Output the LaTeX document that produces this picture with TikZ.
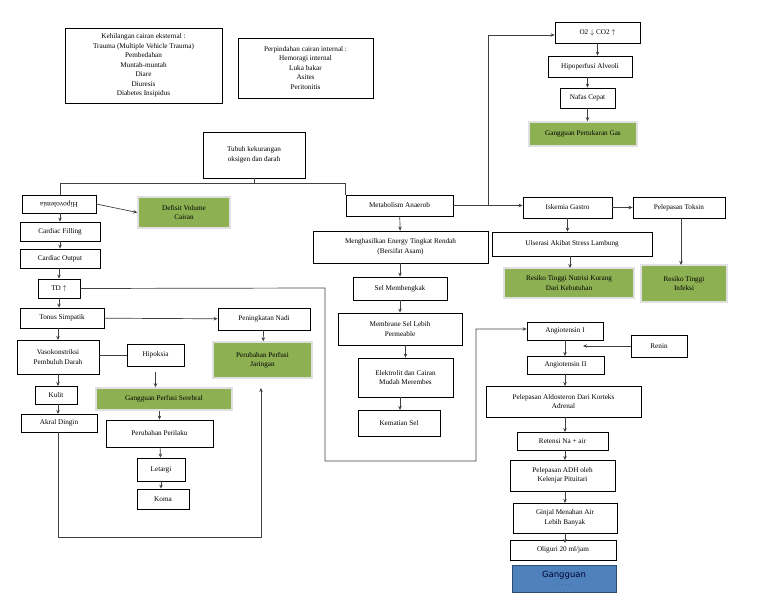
\documentclass[tikz,border=0pt]{standalone}
\usepackage{fontspec}
\setmainfont{Liberation Serif}
\newfontfamily\sansf{DejaVu Sans}
\usetikzlibrary{arrows.meta}
\definecolor{gr}{HTML}{8DB052}
\definecolor{bl}{HTML}{4F81BD}
\begin{document}
\begin{tikzpicture}[x=1pt,y=-1pt,
  every node/.style={font=\fontsize{7.2}{9.5}\selectfont,align=center,inner sep=1pt},
  bx/.style={draw=black,line width=0.8pt},
  gbx/.style={fill=gr,draw=black!12,line width=1.5pt},
  ln/.style={draw=black!75,line width=0.7pt},
  ar/.style={ln,-{Stealth[length=4pt,width=3.5pt]}}]
\useasboundingbox (0,0) rectangle (768,594);
\newcommand{\bxat}[5]{\node[#5,minimum width=#3-#1,minimum height=#4-#2] at ({(#1+#3)/2},{(#2+#4)/2})}
\bxat{65}{28}{222}{103}{bx} (ext) {Kehilangan cairan eksternal :\\Trauma (Multiple Vehicle Trauma)\\Pembedahan\\Muntah-muntah\\Diare\\Diuresis\\Diabetes Insipidus};
\bxat{238}{38}{373}{98}{bx} (int) {Perpindahan cairan internal :\\Hemoragi internal\\Luka bakar\\Asites\\Peritonitis};
\bxat{203}{132}{305}{178}{bx} (tubuh) {Tubuh kekurangan\\oksigen dan darah};
\bxat{22}{195}{96}{213}{bx} (hypo) {\rotatebox{180}{Hipovolemia}};
\bxat{138}{197}{230}{228}{gbx} (def) {Defisit Volume\\Cairan};
\bxat{20}{222}{100}{241}{bx} (cf) {Cardiac Filling};
\bxat{20}{249}{100}{268}{bx} (co) {Cardiac Output};
\bxat{38}{279}{80}{298}{bx} (td) {TD $\uparrow$};
\bxat{20}{308}{104}{328}{bx} (ton) {Tonus Simpatik};
\bxat{218}{308}{310}{330}{bx} (nadi) {Peningkatan Nadi};
\bxat{213}{342}{312}{378}{gbx} (ppj) {Perubahan Perfusi\\Jaringan};
\bxat{17}{340}{99}{374}{bx} (vaso) {Vasokonstriksi\\Pembuluh Darah};
\bxat{127}{344}{184}{366}{bx} (hipok) {Hipoksia};
\bxat{96}{388}{232}{410}{gbx} (gps) {Gangguan Perfusi Serebral};
\bxat{35}{386}{77}{404}{bx} (kulit) {Kulit};
\bxat{21}{414}{97}{432}{bx} (akral) {Akral Dingin};
\bxat{106}{420}{213}{447}{bx} (ppl) {Perubahan Perilaku};
\bxat{137}{458}{185}{481}{bx} (let) {Letargi};
\bxat{137}{489}{189}{509}{bx} (koma) {Koma};
\bxat{346}{195}{453}{216}{bx} (met) {Metabolism Anaerob};
\bxat{313}{231}{488}{263}{bx} (meng) {Menghasilkan Energy Tingkat Rendah\\(Bersifat Asam)};
\bxat{353}{277}{447}{300}{bx} (sel) {Sel Membengkak};
\bxat{338}{313}{462}{345}{bx} (mem) {Membrane Sel Lebih\\Permeable};
\bxat{358}{358}{453}{397}{bx} (ele) {Elektrolit dan Cairan\\Mudah Merembes};
\bxat{358}{410}{440}{436}{bx} (kem) {Kematian Sel};
\bxat{555}{22}{640}{43}{bx} (o2) {O2 $\downarrow$ CO2 $\uparrow$};
\bxat{548}{56}{632}{77}{bx} (hipa) {Hipoperfusi Alveoli};
\bxat{560}{88}{615}{108}{bx} (naf) {Nafas Cepat};
\bxat{529}{122}{637}{146}{gbx} (gpg) {Gangguan Pertukaran Gas};
\bxat{523}{197}{612}{218}{bx} (isk) {Iskemia Gastro};
\bxat{633}{197}{725}{218}{bx} (tok) {Pelepasan Toksin};
\bxat{492}{232}{652}{256}{bx} (uls) {Ulserasi Akibat Stress Lambung};
\bxat{504}{268}{634}{298}{gbx} (rn) {Resiko Tinggi Nutrisi Kurang\\Dari Kebutuhan};
\bxat{641}{265}{727}{302}{gbx} (ri) {Resiko Tinggi\\Infeksi};
\bxat{527}{322}{603}{340}{bx} (a1) {Angiotensin I};
\bxat{631}{335}{687}{357}{bx} (ren) {Renin};
\bxat{527}{356}{604}{374}{bx} (a2) {Angiotensin II};
\bxat{486}{386}{641}{417}{bx} (ald) {Pelepasan Aldosteron Dari Korteks\\Adrenal};
\bxat{517}{432}{608}{450}{bx} (ret) {Retensi Na + air};
\bxat{510}{460}{615}{491}{bx} (adh) {Pelepasan ADH oleh\\Kelenjar Pituitari};
\bxat{513}{503}{617}{533}{bx} (gin) {Ginjal Menahan Air\\Lebih Banyak};
\bxat{510}{540}{616}{560}{bx} (oli) {Oliguri 20 ml/jam};
\bxat{512}{565}{616}{592}{fill=bl,draw=bl!60!black,line width=1pt,text=black!80!blue} (gg) {\sansf\fontsize{8.5}{9}\selectfont Gangguan\\[-2pt]\tiny . \ . \ . \ .};
% tree
\coordinate (tl) at (60,183); \coordinate (tr) at (345,183);
\draw[ln] (tubuh.south) -- (254,183);
\draw[ln] (60,195) -- (tl) -- (tr) -- (tr|-met.north);
\draw[ar] (hypo.east) -- (def.west);
\draw[ar] (cf.north|-hypo.south) -- (cf.north);
\draw[ar] (cf) -- (co);
\draw[ar] (co.south-|td) -- (td.north);
\draw[ar] (td.south) -- (td.south|-ton.north);
\draw[ar] (ton) -- (nadi);
\draw[ar] (nadi) -- (ppj);
\draw[ar] (58,328) -- (58,340);
\draw[ln] (vaso.east|-hipok) -- (hipok.west);
\draw[ar] (hipok.south) ++(0,6) -- (hipok.south|-gps.north);
\draw[ar] (58,374) -- (58,386);
\draw[ar] (58,404) -- (58,414);
\draw[ar] (gps.south-|ppl) -- (ppl.north);
\draw[ar] (ppl) -- (let);
\draw[ar] (let.south) -- (let.south|-koma.north);
\coordinate (b1) at (58,537); \coordinate (b2) at (261,537);
\draw[ar] (akral.south-|b1) -- (b1) -- (b2) -- (261,388);
\coordinate (c1) at (325,288); \coordinate (c2) at (325,461); \coordinate (c3) at (476,461); \coordinate (c4) at (476,329);
\draw[ar] (td.east) -- (c1) -- (c2) -- (c3) -- (c4) -- (a1.west|-c4);
\draw[ar] (met) -- (meng);
\draw[ar] (meng.south-|sel) -- (sel);
\draw[ar] (sel.south-|mem) -- (mem);
\draw[ar] (mem.south-|ele) -- (ele);
\draw[ar] (ele.south-|400,0) -- (400,410);
\coordinate (m1) at (488,205); \coordinate (m2) at (488,35);
\draw[ar] (met.east) -- (isk.west|-met.east);
\draw[ar] (m1) -- (m2) -- (o2.west|-m2);
\draw[ar] (o2.south) -- (o2.south|-hipa.north);
\draw[ar] (hipa.south-|naf) -- (naf.north);
\draw[ar] (naf.south) -- (naf.south|-gpg.north);
\draw[ar] (isk) -- (tok);
\draw[ar] (isk.south) -- (isk.south|-uls.north);
\draw[ar] (uls.south-|570,0) -- (570,268);
\draw[ar] (681,218) -- (681,265);
\draw[ar] (565,340) -- (565,356);
\draw[ar] (ren.west) -- (583,346);
\draw[ar] (565,374) -- (565,386);
\draw[ar] (565,417) -- (565,432);
\draw[ar] (565,450) -- (565,460);
\draw[ar] (565,491) -- (565,503);
\draw[ar] (565,533) -- (565,543);
\end{tikzpicture}
\end{document}
